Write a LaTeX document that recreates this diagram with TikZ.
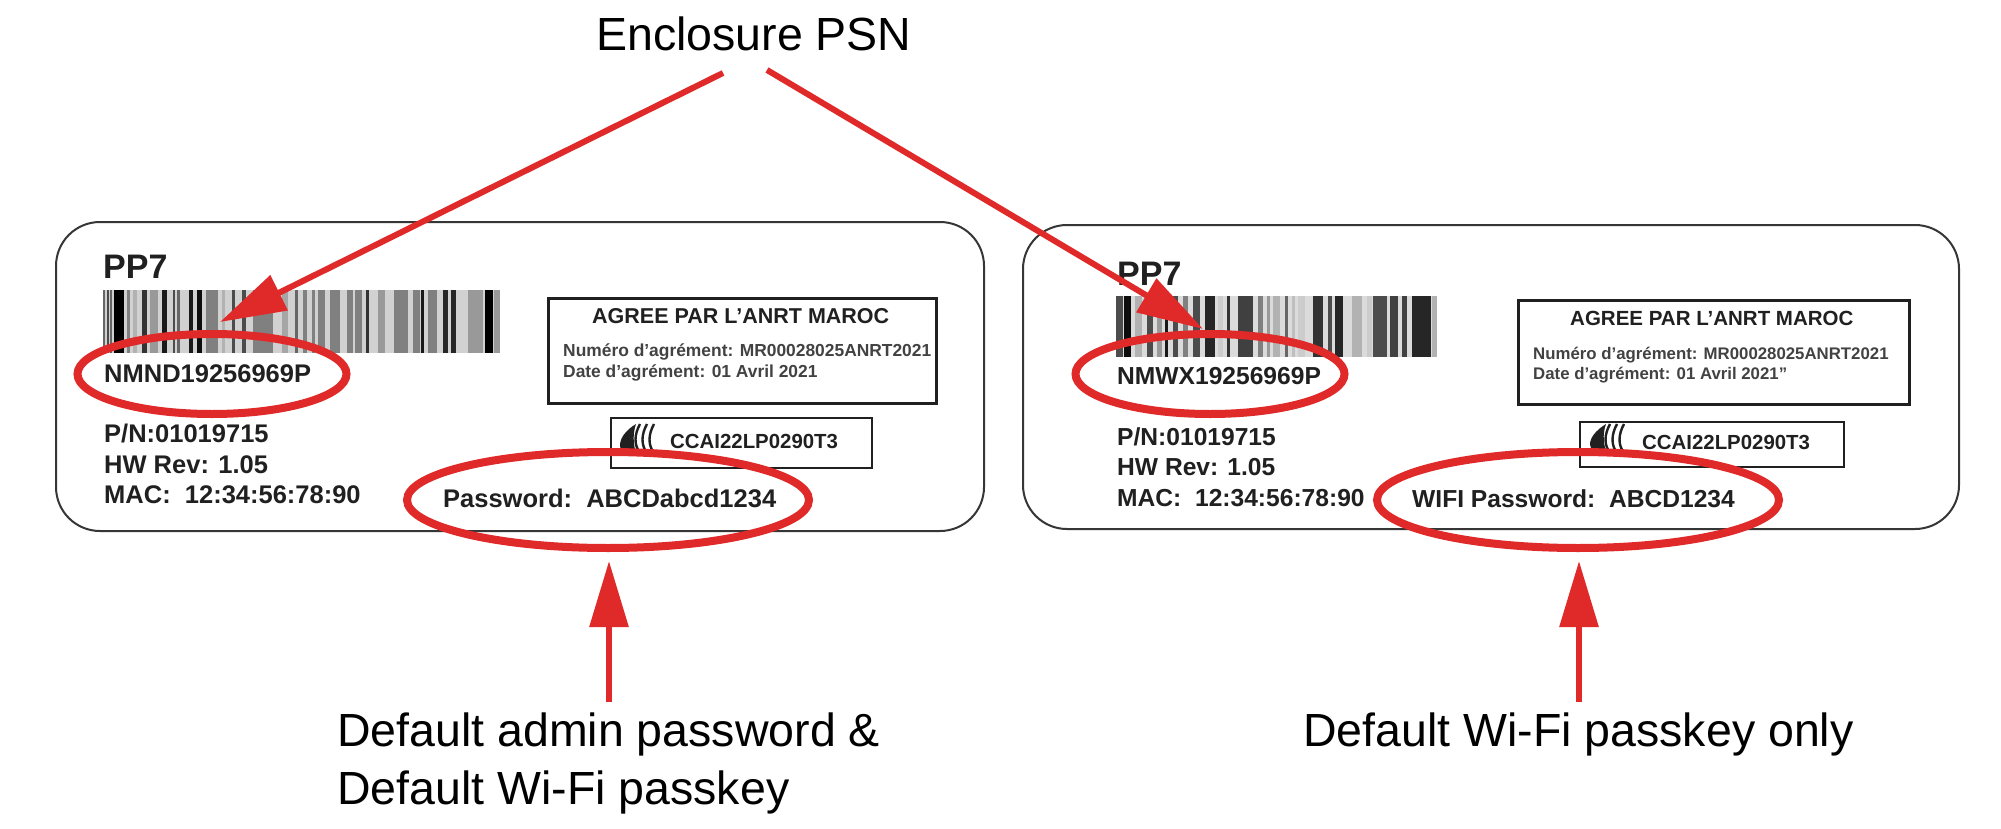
\documentclass[tikz,border=0pt]{standalone}
\usepackage{fontspec}
\setmainfont{Liberation Sans}
\usetikzlibrary{arrows.meta,shapes.geometric}
\definecolor{markred}{RGB}{224,42,42}
\definecolor{ink}{RGB}{32,32,32}
\newcommand{\fsz}[1]{\fontsize{#1}{#1}\selectfont}
\tikzset{
  card/.style={draw=ink!90,line width=2pt,rounded corners=44pt,anchor=north west,inner sep=0pt,fill=white},
  infobox/.style={draw=ink,line width=3pt,anchor=north west,inner sep=0pt},
  codebox/.style={draw=ink,line width=2.4pt,anchor=north west,inner sep=0pt},
  labeltext/.style={anchor=base west,inner sep=0pt,text=ink,font=\bfseries\fsz{25.5}},
  labeltextR/.style={labeltext,font=\bfseries\fsz{24.6}},
  hugetext/.style={anchor=base west,inner sep=0pt,text=ink,font=\bfseries\fsz{34}},
  titletext/.style={anchor=base west,inner sep=0pt,text=ink,font=\bfseries\fsz{21.5}},
  titletextR/.style={titletext,font=\bfseries\fsz{20.5}},
  smalltext/.style={anchor=base west,inner sep=0pt,text=ink!85,font=\bfseries\fsz{17.4}},
  smalltextR/.style={smalltext,font=\bfseries\fsz{16.8}},
  ccatext/.style={anchor=base west,inner sep=0pt,text=ink,font=\bfseries\fsz{20.4}},
  caption/.style={anchor=base west,inner sep=0pt,text=black,font=\fsz{46.5}},
  ring/.style={draw=markred,line width=8pt,ellipse,inner sep=0pt,minimum width=269pt,minimum height=80pt},
  widering/.style={ring,minimum width=402pt,minimum height=96pt},
  pointer/.style={draw=markred,fill=markred,line width=6pt,-{Triangle[length=66pt,width=38pt]}},
}
\begin{document}
\begin{tikzpicture}[x=1pt,y=-1pt]
\useasboundingbox[fill=white] (0,0) rectangle (2001,829);
% cards
\node[card,minimum width=928pt,minimum height=309pt] (cardL) at (55,221) {};
\node[card,minimum width=936pt,minimum height=304pt] (cardR) at (1022,224) {};
% barcodes
\fill[black!18] (103,290) rectangle (500,353);
\fill[black!14] (1116,296) rectangle (1437,357);
\foreach \a/\w/\g in {190/6/60,200/6/70,210/5/60,222/30/100,262/8/50,280/10/30,305/17/80,330/25/40,367/15/90,398/7/70,410/10/60,447/11/90,470/15/95,498/37/50,545/10/30,575/10/70,605/13/70,640/60/50,725/20/35,765/10/60,790/10/50,815/10/50,835/20/50,870/30/50,920/20/50,945/20/50,978/10/80,1015/20/40,1062/43/50,1120/20/50,1142/10/90,1165/25/50,1208/17/85,1232/16/85,1285/45/40,1335/25/100,1362/18/40}
  \fill[black!\g] ({40+\a/3},290) rectangle ++({\w/3},63);
\foreach \a/\w/\g in {318/22/70,342/20/95,375/20/30,412/18/70,440/15/40,465/10/90,490/15/70,520/15/50,550/20/70,585/30/85,625/15/20,650/10/80,685/45/75,745/15/50,770/10/40,790/20/30,825/10/60,845/10/25,865/20/20,910/30/80,955/10/70,975/23/85,1025/30/30,1072/13/20,1090/40/70,1140/25/75,1175/15/75,1205/57/85,1265/15/30}
  \fill[black!\g] ({1010+\a/3},296) rectangle ++({\w/3},61);
% left card text
\node[hugetext] (ppL) at (103,278) {PP7};
\node[labeltext] (psnL) at (104,382) {NMND19256969P};
\node[labeltext] (pnL) at (104,442) {P/N:01019715};
\node[labeltext] (hwL) at (104,473) {HW Rev: 1.05};
\node[labeltext] (macL) at (104,503) {MAC:\ \ 12:34:56:78:90};
\node[labeltext] (pwL) at (443,507) {Password:\ \ ABCDabcd1234};
\node[infobox,minimum width=388pt,minimum height=105pt] (boxL) at (547,297) {};
\node[titletext] (agL) at (592,323) {AGREE PAR L'ANRT MAROC};
\node[smalltext] (numL) at (563,356) {Numéro d'agrément: MR00028025ANRT2021};
\node[smalltext] (dateL) at (563,377) {Date d'agrément: 01 Avril 2021};
\node[codebox,minimum width=261pt,minimum height=50pt] (ccaL) at (610,417) {};
\node[ccatext] (ccaTL) at (670,448) {CCAI22LP0290T3};
\fill[ink] (621,450) .. controls (617,440) and (626,430) .. (636,424) .. controls (632,435) and (634,448) .. (636,452) -- cycle;
\foreach \d in {0,7,14} \draw[ink,line width=2.4pt] ({640+\d},424) .. controls ({634+\d},435) and ({634+\d},445) .. ({640+\d},453);
% right card text
\node[hugetext] (ppR) at (1117,285) {PP7};
\node[labeltextR] (psnR) at (1117,384) {NMWX19256969P};
\node[labeltextR] (pnR) at (1117,445) {P/N:01019715};
\node[labeltextR] (hwR) at (1117,475) {HW Rev: 1.05};
\node[labeltextR] (macR) at (1117,506) {MAC:\ \ 12:34:56:78:90};
\node[labeltextR] (pwR) at (1412,507) {WIFI Password:\ \ ABCD1234};
\node[infobox,minimum width=391pt,minimum height=104pt] (boxR) at (1517,299) {};
\node[titletextR] (agR) at (1570,325) {AGREE PAR L'ANRT MAROC};
\node[smalltextR] (numR) at (1533,359) {Numéro d'agrément: MR00028025ANRT2021};
\node[smalltextR] (dateR) at (1533,379) {Date d'agrément: 01 Avril 2021"};
\node[codebox,minimum width=264pt,minimum height=45pt] (ccaR) at (1579,421) {};
\node[ccatext] (ccaTR) at (1642,449) {CCAI22LP0290T3};
\fill[ink] (1591,448) .. controls (1587,440) and (1596,430) .. (1606,424) .. controls (1602,435) and (1604,446) .. (1606,450) -- cycle;
\foreach \d in {0,7,14} \draw[ink,line width=2.4pt] ({1610+\d},424) .. controls ({1604+\d},435) and ({1604+\d},445) .. ({1610+\d},453);
% rings
\node[ring] (ringPL) at (212,374) {};
\node[ring] (ringPR) at (1210,374) {};
\node[widering] (ringWL) at (608,500) {};
\node[widering] (ringWR) at (1578,500) {};
% captions
\node[caption] (encl) at (596,51) {Enclosure PSN};
\node[caption] (capA1) at (337,746) {Default admin password \&};
\node[caption] (capA2) at (337,804) {Default Wi-Fi passkey};
\node[caption] (capB) at (1303,746) {Default Wi-Fi passkey only};
% arrows
\coordinate (startL) at (723,73);
\coordinate (tipL) at (220,322);
\coordinate (startR) at (767,70);
\coordinate (tipR) at (1203,329);
\coordinate (upAL) at (609,702);
\coordinate (upTL) at (609,561);
\coordinate (upAR) at (1579,702);
\coordinate (upTR) at (1579,561);
\draw[pointer] (startL) -- (tipL);
\draw[pointer] (startR) -- (tipR);
\draw[pointer] (upAL) -- (upTL);
\draw[pointer] (upAR) -- (upTR);
\end{tikzpicture}
\end{document}
